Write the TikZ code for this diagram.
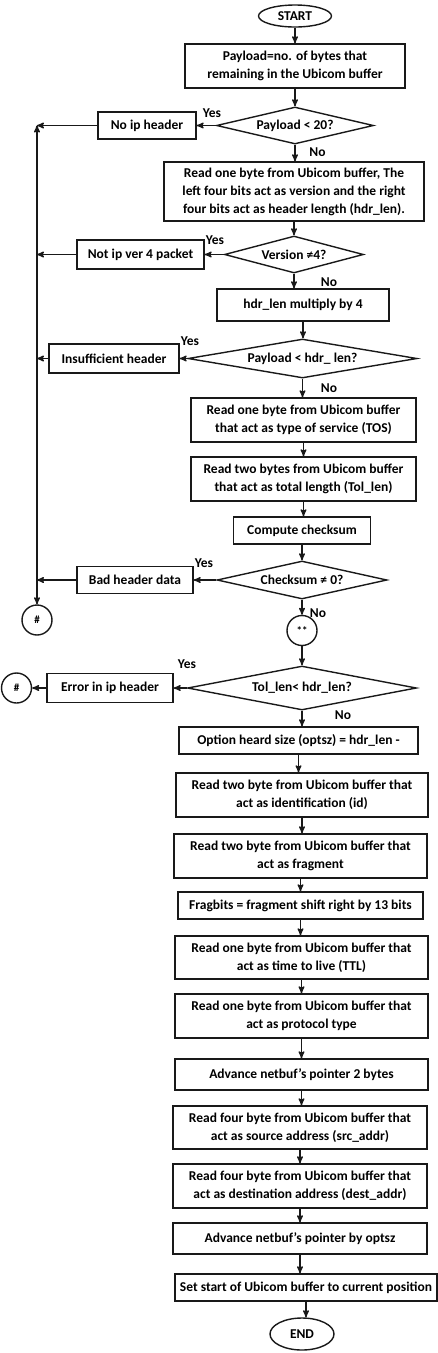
\documentclass[tikz,border=0pt]{standalone}
\usepackage{fontspec}
\setmainfont{Carlito}
\usetikzlibrary{arrows,shapes.geometric}
\definecolor{line_gray}{RGB}{25,25,25}

\begin{document}
\begin{tikzpicture}[->,line width=1.4pt,>=stealth',x=1pt,y=-1pt]
    \tikzstyle{block}=[draw=line_gray, rectangle, align=center, inner sep=1pt, fill=none, text=black, font=\bfseries\fontsize{13.5}{18}\selectfont]
    \tikzstyle{term}=[draw=line_gray, ellipse, inner sep=0pt, fill=none, text=black, font=\bfseries\fontsize{13.5}{18}\selectfont]
    \tikzstyle{test}=[draw=line_gray, diamond, aspect=5, inner sep=0pt, fill=none, text=black, font=\bfseries\fontsize{13.5}{18}\selectfont]
    \tikzstyle{conn}=[draw=line_gray, circle, minimum size=30, inner sep=0pt, fill=none, text=black, font=\bfseries\fontsize{11}{13}\selectfont]
    \tikzstyle{lbl}=[inner sep=0pt, text=black, font=\bfseries\fontsize{13.5}{16}\selectfont]
    \useasboundingbox (0,0) rectangle (437,1353);

    \node[term]  (start)  at (295,16)      [minimum width=73, minimum height=22] {START};
    \node[block] (b1)     at (295,66)      [minimum width=220, minimum height=44] {Payload=no. of bytes that\\remaining in the Ubicom buffer};
    \node[test]  (d1)     at (295,125.5)   [minimum width=157, minimum height=37] {Payload < 20?};
    \node[block] (noip)   at (147,125.5)   [minimum width=98, minimum height=27] {No ip header};
    \node[block] (b2)     at (294,191.5)   [minimum width=260, minimum height=59] {Read one byte from Ubicom buffer, The\\left four bits act as version and the right\\four bits act as header length (hdr\_len).};
    \node[test]  (d2)     at (294,254.5)   [minimum width=139, minimum height=37] {Version ≠4?};
    \node[block] (notv4)  at (140.5,254.5) [minimum width=127, minimum height=29] {Not ip ver 4 packet};
    \node[block] (b3)     at (303,305)     [minimum width=172, minimum height=32] {hdr\_len multiply by 4};
    \node[test]  (d3)     at (302.5,358.5) [minimum width=229, minimum height=39] {Payload < hdr\_ len?};
    \node[block] (insuf)  at (114,358.5)   [minimum width=130, minimum height=29] {Insufficient header};
    \node[block] (b4)     at (303.5,420)   [minimum width=225, minimum height=44] {Read one byte from Ubicom buffer\\that act as type of service (TOS)};
    \node[block] (b5)     at (303.5,479)   [minimum width=225, minimum height=44] {Read two bytes from Ubicom buffer\\that act as total length (Tol\_len)};
    \node[block] (b6)     at (302,530.5)   [minimum width=137, minimum height=27] {Compute checksum};
    \node[test]  (d4)     at (302,580)     [minimum width=170, minimum height=38] {Checksum ≠ 0?};
    \node[block] (badhdr) at (135,580)     [minimum width=116, minimum height=27] {Bad header data};
    \node[conn]  (h1)     at (37,620)      {\#};
    \node[conn]  (c2)     at (302,630.5)   {**};
    \node[test]  (d5)     at (302,688)     [minimum width=229, minimum height=44] {Tol\_len< hdr\_len?};
    \node[block] (errhdr) at (110,688)     [minimum width=126, minimum height=29] {Error in ip header};
    \node[conn]  (h2)     at (16.5,688)    {\#};
    \node[block] (b7)     at (298.5,740.5) [minimum width=239, minimum height=27] {Option heard size (optsz) = hdr\_len -};
    \node[block] (b8)     at (302,795)     [minimum width=252, minimum height=44] {Read two byte from Ubicom buffer that\\act as identification (id)};
    \node[block] (b9)     at (300.5,856)   [minimum width=253, minimum height=44] {Read two byte from Ubicom buffer that\\act as fragment};
    \node[block] (b10)    at (300.5,905.5) [minimum width=245, minimum height=27] {Fragbits = fragment shift right by 13 bits};
    \node[block] (b11)    at (301.5,957.5) [minimum width=253, minimum height=43] {Read one byte from Ubicom buffer that\\act as time to live (TTL)};
    \node[block] (b12)    at (301.5,1016)  [minimum width=253, minimum height=44] {Read one byte from Ubicom buffer that\\act as protocol type};
    \node[block] (b13)    at (301.5,1074.5)[minimum width=253, minimum height=31] {Advance netbuf’s pointer 2 bytes};
    \node[block] (b14)    at (300,1127.5)  [minimum width=254, minimum height=43] {Read four byte from Ubicom buffer that\\act as source address (src\_addr)};
    \node[block] (b15)    at (300,1186)    [minimum width=254, minimum height=44] {Read four byte from Ubicom buffer that\\act as destination address (dest\_addr)};
    \node[block] (b16)    at (300,1238.5)  [minimum width=254, minimum height=31] {Advance netbuf’s pointer by optsz};
    \node[block] (b17)    at (306,1287.5)  [minimum width=262, minimum height=27] {Set start of Ubicom buffer to current position};
    \node[term]  (end)    at (302,1334)    [minimum width=64, minimum height=32] {END};

    \node[lbl] (y1) at (212,113) {Yes};
    \node[lbl] (y2) at (215,240) {Yes};
    \node[lbl] (y3) at (190,341) {Yes};
    \node[lbl] (y4) at (204,563) {Yes};
    \node[lbl] (y5) at (187,664) {Yes};
    \node[lbl] (n1) at (317.5,152) {No};
    \node[lbl] (n2) at (329,282) {No};
    \node[lbl] (n3) at (329,388) {No};
    \node[lbl] (n4) at (318,613) {No};
    \node[lbl] (n5) at (343,715) {No};

    \path[draw=line_gray]
     (start)  edge (start |- b1.north)
     (b1)     edge (b1 |- d1.north)
     (d1)     edge (d1 |- b2.north)
     (b2)     edge (b2 |- d2.north)
     (d2)     edge (d2 |- b3.north)
     (b3)     edge (b3 |- d3.north)
     (d3)     edge (d3 |- b4.north)
     (b4)     edge (b4 |- b5.north)
     (b5)     edge (b5 |- b6.north)
     (b6)     edge (b6 |- d4.north)
     (d4)     edge (c2)
     (c2)     edge (d5)
     (d5)     edge (d5 |- b7.north)
     (b7)     edge (b7 |- b8.north)
     (b8)     edge (b8 |- b9.north)
     (b9)     edge (b9 |- b10.north)
     (b10)    edge (b10 |- b11.north)
     (b11)    edge (b11 |- b12.north)
     (b12)    edge (b12 |- b13.north)
     (b13)    edge (b13 |- b14.north)
     (b14)    edge (b14 |- b15.north)
     (b15)    edge (b15 |- b16.north)
     (b16)    edge (b16 |- b17.north)
     (b17)    edge (b17 |- end.north)
     (d1)     edge (noip)
     (d2)     edge (notv4)
     (d3)     edge (insuf)
     (d4)     edge (badhdr)
     (d5)     edge (errhdr)
     (errhdr) edge (h2)
     (noip)   edge (noip -| h1)
     (notv4)  edge (notv4 -| h1)
     (insuf)  edge (insuf -| h1)
     (badhdr) edge (badhdr -| h1)
     (noip -| h1) edge (h1)
     ;
\end{tikzpicture}
\end{document}
